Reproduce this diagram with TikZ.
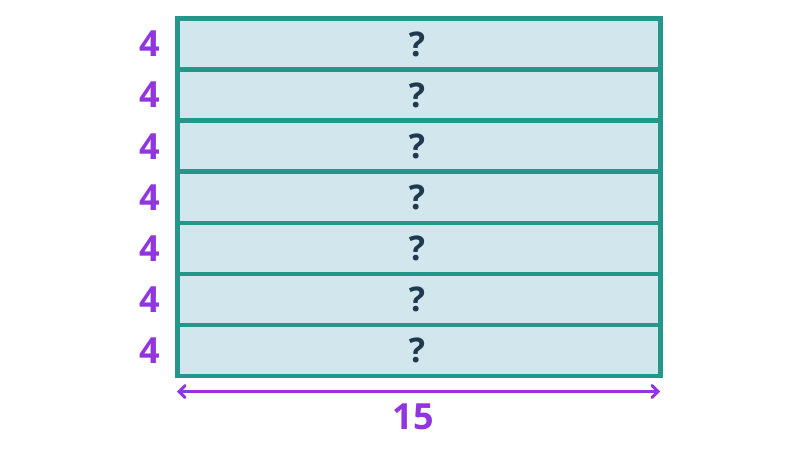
\documentclass[tikz,border=0pt]{standalone}
\usepackage{fontspec}
\setmainfont{Open Sans}
\usetikzlibrary{arrows.meta}
\definecolor{fillblue}{HTML}{D2E6EE}
\definecolor{teal2}{HTML}{23978A}
\definecolor{purp}{HTML}{9035E0}
\definecolor{navy}{HTML}{1F3A4F}
\begin{document}
\begin{tikzpicture}[x=1pt,y=-1pt,
  rowbox/.style={draw=teal2,fill=fillblue,line width=4.5pt},
  qlabel/.style={text=navy,font=\bfseries\fontsize{34}{34}\selectfont},
  numlabel/.style={text=purp,font=\bfseries\fontsize{36}{36}\selectfont},
  dimarrow/.style={draw=purp,line width=3pt,{Straight Barb[length=6pt,width=12pt,line cap=round]}-{Straight Barb[length=6pt,width=12pt,line cap=round]}}]
\useasboundingbox (0,0) rectangle (800,450);
\foreach \i in {0,...,6}{
  \pgfmathsetmacro{\ya}{18.5+51.07*\i}
  \pgfmathsetmacro{\yb}{18.5+51.07*(\i+1)}
  \pgfmathsetmacro{\yc}{18.5+51.07*(\i+0.5)}
  \draw[rowbox] (177.5,\ya) rectangle (660.5,\yb);
  \node[qlabel] (q\i) at (417,\yc) {?};
  \node[numlabel] (n\i) at (150,\yc) {4};
}
\coordinate (al) at (177,391.5);
\coordinate (ar) at (660,391.5);
\draw[dimarrow] (al) -- (ar);
\node[numlabel] (w) at (413,417) {15};
\end{tikzpicture}
\end{document}
